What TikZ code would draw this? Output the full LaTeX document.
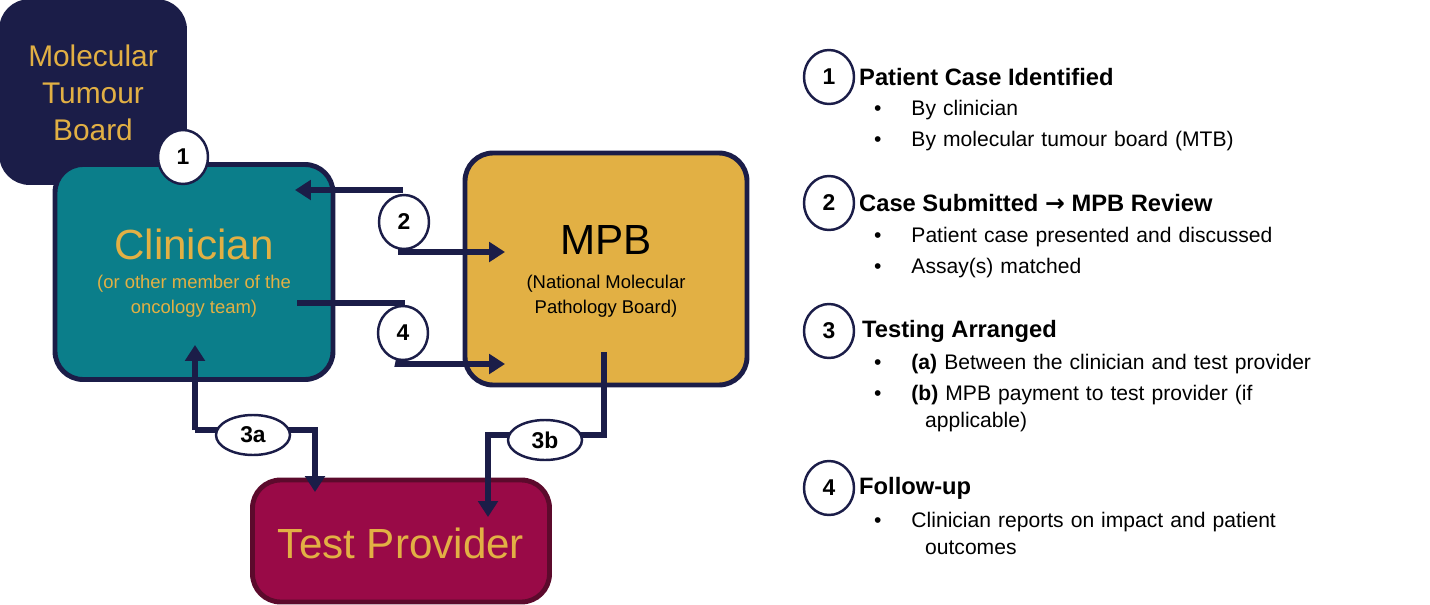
\documentclass[tikz,border=0pt]{standalone}
\usepackage{fontspec}
\setmainfont{Liberation Sans}
\newfontfamily\dvs{DejaVu Sans}
\usetikzlibrary{arrows.meta,shapes.geometric}
\definecolor{navy}{HTML}{1B1D48}
\definecolor{gold}{HTML}{E2B044}
\definecolor{teal}{HTML}{0B7E8A}
\definecolor{maroon}{HTML}{990A47}
\definecolor{dmaroon}{HTML}{5C0A2C}
\begin{document}
\begin{tikzpicture}[x=0.02cm,y=-0.02cm,
  box/.style={draw=navy,line width=2.8pt,rounded corners=16pt,inner sep=0pt},
  num/.style={ellipse,draw=navy,fill=white,line width=1.4pt,minimum width=50*0.02cm,minimum height=54*0.02cm,inner sep=0pt,font=\bfseries\fontsize{13}{15}\selectfont},
  con/.style={draw=navy,line width=3.4pt},
  arr/.style={con,-{Triangle[length=9pt,width=11pt]}},
  ttl/.style={anchor=west,font=\bfseries\fontsize{13.5}{16}\selectfont},
  bul/.style={anchor=north west,font=\fontsize{12}{15.5}\selectfont,align=left,text width=500*0.02cm}]
\useasboundingbox (0,0) rectangle (1430,605);
\node[box,draw=navy,fill=navy,minimum width=183*0.02cm,minimum height=181*0.02cm] (mtb) at (93,92) {};
\node[text=gold,align=center,font=\fontsize{17}{21}\selectfont] (mtbt) at (93,93) {Molecular\\Tumour\\Board};
\node[box,fill=teal,minimum width=278*0.02cm,minimum height=215*0.02cm] (cl) at (194,272) {};
\node[text=gold,font=\fontsize{24}{28}\selectfont] (clt) at (194,244) {Clinician};
\node[text=gold,align=center,font=\fontsize{10.5}{14}\selectfont] (cls) at (194,296) {(or other member of the\\oncology team)};
\node[box,fill=gold,minimum width=282*0.02cm,minimum height=232*0.02cm] (mpb) at (606,269) {};
\node[font=\fontsize{24}{28}\selectfont] (mpbt) at (606,240) {MPB};
\node[align=center,font=\fontsize{10.5}{14}\selectfont] (mpbs) at (606,296) {(National Molecular\\Pathology Board)};
\node[box,draw=dmaroon,fill=maroon,minimum width=297*0.02cm,minimum height=122*0.02cm] (tp) at (401,541) {};
\node[text=gold,font=\fontsize{24}{28}\selectfont] (tpt) at (401,543) {Test Provider};
% connectors
\coordinate (a1) at (403,190); \coordinate (a2) at (295,190);
\coordinate (b1) at (398,252); \coordinate (b2) at (505,252);
\coordinate (c1) at (297,303); \coordinate (c2) at (402,303);
\coordinate (d1) at (398,364); \coordinate (d2) at (505,364);
\draw[arr] (a1) -- (a2);
\draw[arr] (b1) -- (b2);
\draw[con] (c1) -- (c2) -- (402,320);
\draw[arr] (402,345) -- (d1) -- (d2);
\coordinate (e1) at (195,430); \coordinate (e2) at (195,345);
\draw[arr] (e1) -- (e2);
\coordinate (f2) at (315,492);
\draw[arr] (e1) -- (315,430) -- (f2);
\coordinate (g1) at (604,352); \coordinate (g2) at (488,517);
\draw[arr] (g1) -- (604,435) -- (488,435) -- (g2);
\node[num] (n1) at (183,157) {1};
\node[num] (n2) at (404,222) {2};
\node[num] (n4) at (403,333) {4};
\node[num,minimum width=74*0.02cm,minimum height=40*0.02cm] (n3a) at (253,435) {3a};
\node[num,minimum width=74*0.02cm,minimum height=40*0.02cm] (n3b) at (545,440) {3b};
% legend
\node[num] (l1) at (829,77) {1};
\node[ttl] (t1) at (853,77) {Patient Case Identified};
\node[bul] (b1t) at (868,94) {•\hspace{17pt}By clinician\\[2pt]•\hspace{17pt}By molecular tumour board (MTB)};
\node[num] (l2) at (829,203) {2};
\node[ttl] (t2) at (853,203) {Case Submitted {\dvs\bfseries →} MPB Review};
\node[bul] (b2t) at (868,221) {•\hspace{17pt}Patient case presented and discussed\\[2pt]•\hspace{17pt}Assay(s) matched};
\node[num] (l3) at (829,331) {3};
\node[ttl] (t3) at (856,331) {Testing Arranged};
\node[bul] (b3t) at (868,348) {•\hspace{17pt}\textbf{(a)} Between the clinician and test provider\\[2pt]•\hspace{17pt}\textbf{(b)} MPB payment to test provider (if\\\hspace{29pt}applicable)};
\node[num] (l4) at (829,488) {4};
\node[ttl] (t4) at (853,488) {Follow-up};
\node[bul] (b4t) at (868,506) {•\hspace{17pt}Clinician reports on impact and patient\\\hspace{29pt}outcomes};
\end{tikzpicture}
\end{document}
